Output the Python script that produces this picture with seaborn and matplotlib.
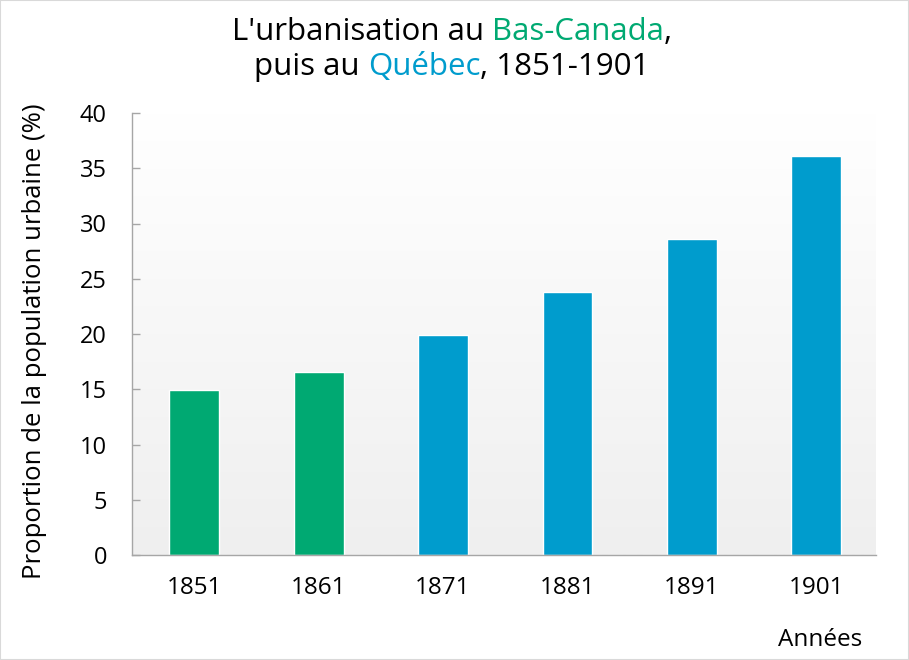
"""Urbanisation au Bas-Canada puis au Québec, 1851-1901 (bar chart)."""

import matplotlib
matplotlib.use("Agg")
import matplotlib.pyplot as plt
import numpy as np
import pandas as pd
import seaborn as sns
from matplotlib.colors import LinearSegmentedColormap
from matplotlib.patches import Rectangle

# data
years = ["1851", "1861", "1871", "1881", "1891", "1901"]
urban_pct = [14.9, 16.6, 19.9, 23.8, 28.6, 36.1]
regime = ["Bas-Canada", "Bas-Canada", "Québec", "Québec", "Québec", "Québec"]
y_ticks = [0, 5, 10, 15, 20, 25, 30, 35, 40]

GREEN = "#00a972"
BLUE = "#009ccd"
GREY = "#a6a6a6"
palette = {"Bas-Canada": GREEN, "Québec": BLUE}

sns.set_theme(style="white")
plt.rcParams["font.family"] = ["Open Sans", "DejaVu Sans"]
plt.rcParams["text.color"] = "black"

df = pd.DataFrame({"Annee": years, "Urbaine": urban_pct, "Regime": regime})

W, H = 909, 660
fig = plt.figure(figsize=(W / 100, H / 100), dpi=100)
fig.patch.set_facecolor("white")
ax = fig.add_axes([132 / W, 1 - 555 / H, (876 - 132) / W, (555 - 113) / H])

sns.barplot(data=df, x="Annee", y="Urbaine", hue="Regime", palette=palette,
            width=0.4, dodge=False, saturation=1, legend=False, ax=ax, zorder=2)

# light vertical gradient behind the bars
grad = LinearSegmentedColormap.from_list("bg", ["#ffffff", "#efefef"])
ax.imshow(np.linspace(0, 1, 256).reshape(-1, 1), cmap=grad, aspect="auto",
          extent=(0, 1, 0, 1), transform=ax.transAxes, zorder=0)

ax.set_xlim(-0.5, 5.48)
ax.set_ylim(0, 40)
ax.set_yticks(y_ticks)
ax.set_xlabel("")
ax.set_ylabel("")

for side in ["top", "right"]:
    ax.spines[side].set_visible(False)
for side in ["left", "bottom"]:
    ax.spines[side].set_color(GREY)
    ax.spines[side].set_linewidth(1)

ax.tick_params(axis="y", direction="in", length=6, width=1, color=GREY,
               labelsize=17, labelcolor="black", pad=18, left=True)
ax.tick_params(axis="x", length=0, labelsize=17.5, labelcolor="black", pad=15)

fig.text(35 / W, 1 - 341 / H, "Proportion de la population urbaine (%)",
         rotation=90, ha="center", va="center", fontsize=18.5, color="black")
fig.text(862 / W, 1 - 646 / H, "Années", ha="right", va="baseline",
         fontsize=17.5, color="black")

# two-line title with coloured words
fig.canvas.draw()
renderer = fig.canvas.get_renderer()


def text_width(s, size):
    t = fig.text(0, 0, s, fontsize=size)
    w = t.get_window_extent(renderer).width
    t.remove()
    return w


def colored_line(parts, center_px, baseline_px, size):
    full = "".join(s for s, _ in parts)
    total = text_width(full, size)
    left = center_px - total / 2
    start = 0
    for s, c in parts:
        if start == 0:
            off = 0
        else:
            off = text_width(full[:start + 1], size) - text_width(s[0], size)
        fig.text((left + off) / W, 1 - baseline_px / H, s, color=c,
                 fontsize=size, ha="left", va="baseline")
        start += len(s)


TITLE_SIZE = 22.5
colored_line([("L'urbanisation au ", "black"), ("Bas-Canada", GREEN), (",", "black")],
             452, 40, TITLE_SIZE)
colored_line([("puis au ", "black"), ("Québec", BLUE), (", 1851-1901", "black")],
             452, 75, TITLE_SIZE)

# thin frame around the whole picture
fig.add_artist(Rectangle((0, 0), 1, 1, transform=fig.transFigure, fill=False,
                         edgecolor="#d9d9d9", linewidth=1.5))

fig.savefig("out.png", dpi=100)
